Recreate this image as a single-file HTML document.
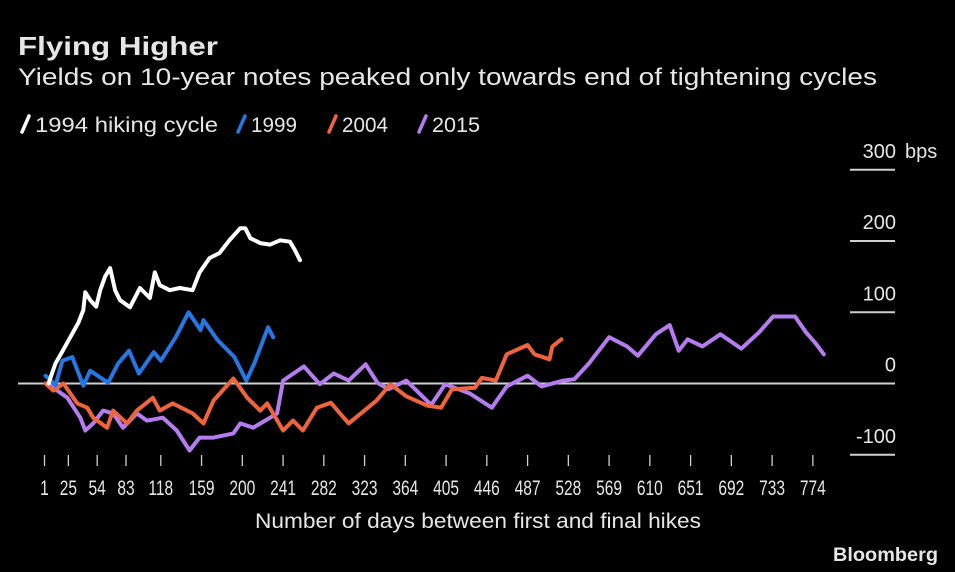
<!DOCTYPE html>
<html><head><meta charset="utf-8"><style>
html,body{margin:0;padding:0;background:#000;}
svg{display:block;}
text{font-family:"Liberation Sans",sans-serif;fill:#e6e6e6;}
</style></head><body>
<svg id="chart" width="955" height="572" viewBox="0 0 955 572">
<rect x="0" y="0" width="955" height="572" fill="#000"/>
<text x="18" y="55" font-size="26" font-weight="bold" fill="#fff" textLength="200" lengthAdjust="spacingAndGlyphs">Flying Higher</text>
<text x="18" y="85" font-size="24" textLength="859" lengthAdjust="spacingAndGlyphs">Yields on 10-year notes peaked only towards end of tightening cycles</text>
<g id="legend"></g>
<g id="yaxis"></g>
<g id="xaxis"></g>
<g id="series"></g>
<text x="478" y="528" font-size="21" text-anchor="middle" textLength="446" lengthAdjust="spacingAndGlyphs">Number of days between first and final hikes</text>
<text x="938" y="561" font-size="19" font-weight="bold" text-anchor="end" fill="#ddd" textLength="105" lengthAdjust="spacingAndGlyphs">Bloomberg</text>
</svg>
<script>
const xTickLabels = [1,25,54,83,118,159,200,241,282,323,364,405,446,487,528,569,610,651,692,733,774];
const yTicks = [300,200,100,0,-100];
const seriesNames = ["1994 hiking cycle","1999","2004","2015"];
const seriesColors = ["#ffffff","#2577e3","#f0643c","#b57cf0"];
const days1994 = [5,12,19,27,35,40,42,47,53,57,62,67,72,77,87,97,107,112,117,127,137,150,157,167,177,187,198,203,208,218,228,238,248,253,258];
const vals1994 = [0,28,45,65,85,103,128,117,108,131,150,162,131,117,107,134,120,156,138,131,134,131,156,176,183,201,218,218,204,197,195,201,199,187,173];
const days1999 = [2,7,12,19,29,40,47,65,75,86,96,111,118,133,146,158,161,175,192,204,212,226,231];
const vals1999 = [11,5,-3,32,37,-3,18,1,28,46,14,44,32,65,100,75,89,61,37,4,28,79,65];
const days2004 = [2,10,20,34,44,50,64,70,84,94,110,117,130,150,161,171,191,205,218,225,241,251,261,275,289,307,335,349,365,386,400,411,434,441,455,466,487,494,509,512,521];
const vals2004 = [0,-10,0,-28,-34,-48,-62,-38,-56,-38,-20,-38,-28,-42,-56,-24,7,-20,-38,-28,-66,-52,-66,-34,-27,-56,-24,-1,-18,-31,-34,-8,-6,8,4,41,54,41,34,52,62];
const days2015 = [2,10,24,37,42,50,60,70,80,94,104,120,134,147,157,171,191,198,211,228,235,241,262,278,292,307,324,336,347,365,390,404,429,451,466,487,501,523,534,548,562,569,587,598,616,630,639,648,663,681,702,720,734,756,767,777,785];
const vals2015 = [0,-6,-20,-48,-66,-56,-38,-42,-62,-42,-52,-48,-66,-94,-76,-76,-70,-56,-62,-48,-42,4,24,-1,14,4,27,1,-8,4,-30,-1,-14,-34,-4,11,-4,4,6,27,52,65,52,39,69,82,46,62,52,69,49,72,94,94,72,56,41];

const NS = "http://www.w3.org/2000/svg";
function xScale(d){ return 44.5 + (d - 1) * 0.994; }
function yScale(v){ return 383.5 - v * 0.7125; }
function mk(tag, attrs, parent){
  const el = document.createElementNS(NS, tag);
  for (const k in attrs) el.setAttribute(k, attrs[k]);
  parent.appendChild(el);
  return el;
}

const yg = document.getElementById('yaxis');
yTicks.forEach(v => {
  const ln = mk('line', {x1:850, x2:895, y1:yScale(v), y2:yScale(v), stroke:'#cfcfcf', 'stroke-width':2}, yg);
  
  
  const t = mk('text', {x:896, y:yScale(v) - 12, 'font-size':20, 'text-anchor':'end'}, yg);
  t.textContent = String(v);
  
  
});
const bps = mk('text', {x:905, y:yScale(300) - 12, 'font-size':20}, yg);
bps.textContent = 'bps';


const zl = mk('line', {x1:18, x2:895, y1:yScale(0), y2:yScale(0), stroke:'#cfcfcf', 'stroke-width':2}, yg);



const xg = document.getElementById('xaxis');
xTickLabels.forEach(d => {
  const tk = mk('line', {x1:xScale(d), x2:xScale(d), y1:455, y2:466, stroke:'#cfcfcf', 'stroke-width':1.3}, xg);
  
  
  const t = mk('text', {x:xScale(d), y:495, 'font-size':21, 'text-anchor':'middle', transform:'translate(' + xScale(d) + ',0) scale(0.74,1) translate(' + (-xScale(d)) + ',0)'}, xg);
  t.textContent = d;
  
  
});

const sg = document.getElementById('series');
const allDays = [days2015, days2004, days1999, days1994];
const allVals = [vals2015, vals2004, vals1999, vals1994];
const order = [3,2,1,0];
order.forEach((si, k) => {
  const ds = allDays[k], vs = allVals[k];
  const pts = ds.map((d, i) => xScale(d).toFixed(1) + ',' + yScale(vs[i]).toFixed(1)).join(' ');
  const pl = mk('polyline', {points:pts, fill:'none', stroke:seriesColors[si], 'stroke-width':4, 'stroke-linejoin':'round', 'stroke-linecap':'round'}, sg);
  
  
});

const lg = document.getElementById('legend');
const legendX = [20, 236, 327, 417];
const legendW = [183, 46, 46, 48];
seriesNames.forEach((n, i) => {
  const g = mk('g', {}, lg);
  
  
  const sw = mk('line', {x1:legendX[i] + 2, y1:132, x2:legendX[i] + 9, y2:116, stroke:seriesColors[i], 'stroke-width':3.5, 'stroke-linecap':'round'}, g);
  
  
  const t = mk('text', {x:legendX[i] + 15, y:132, 'font-size':21, textLength:legendW[i], lengthAdjust:'spacingAndGlyphs'}, g);
  t.textContent = n;
  
  
});
</script>
</body></html>
